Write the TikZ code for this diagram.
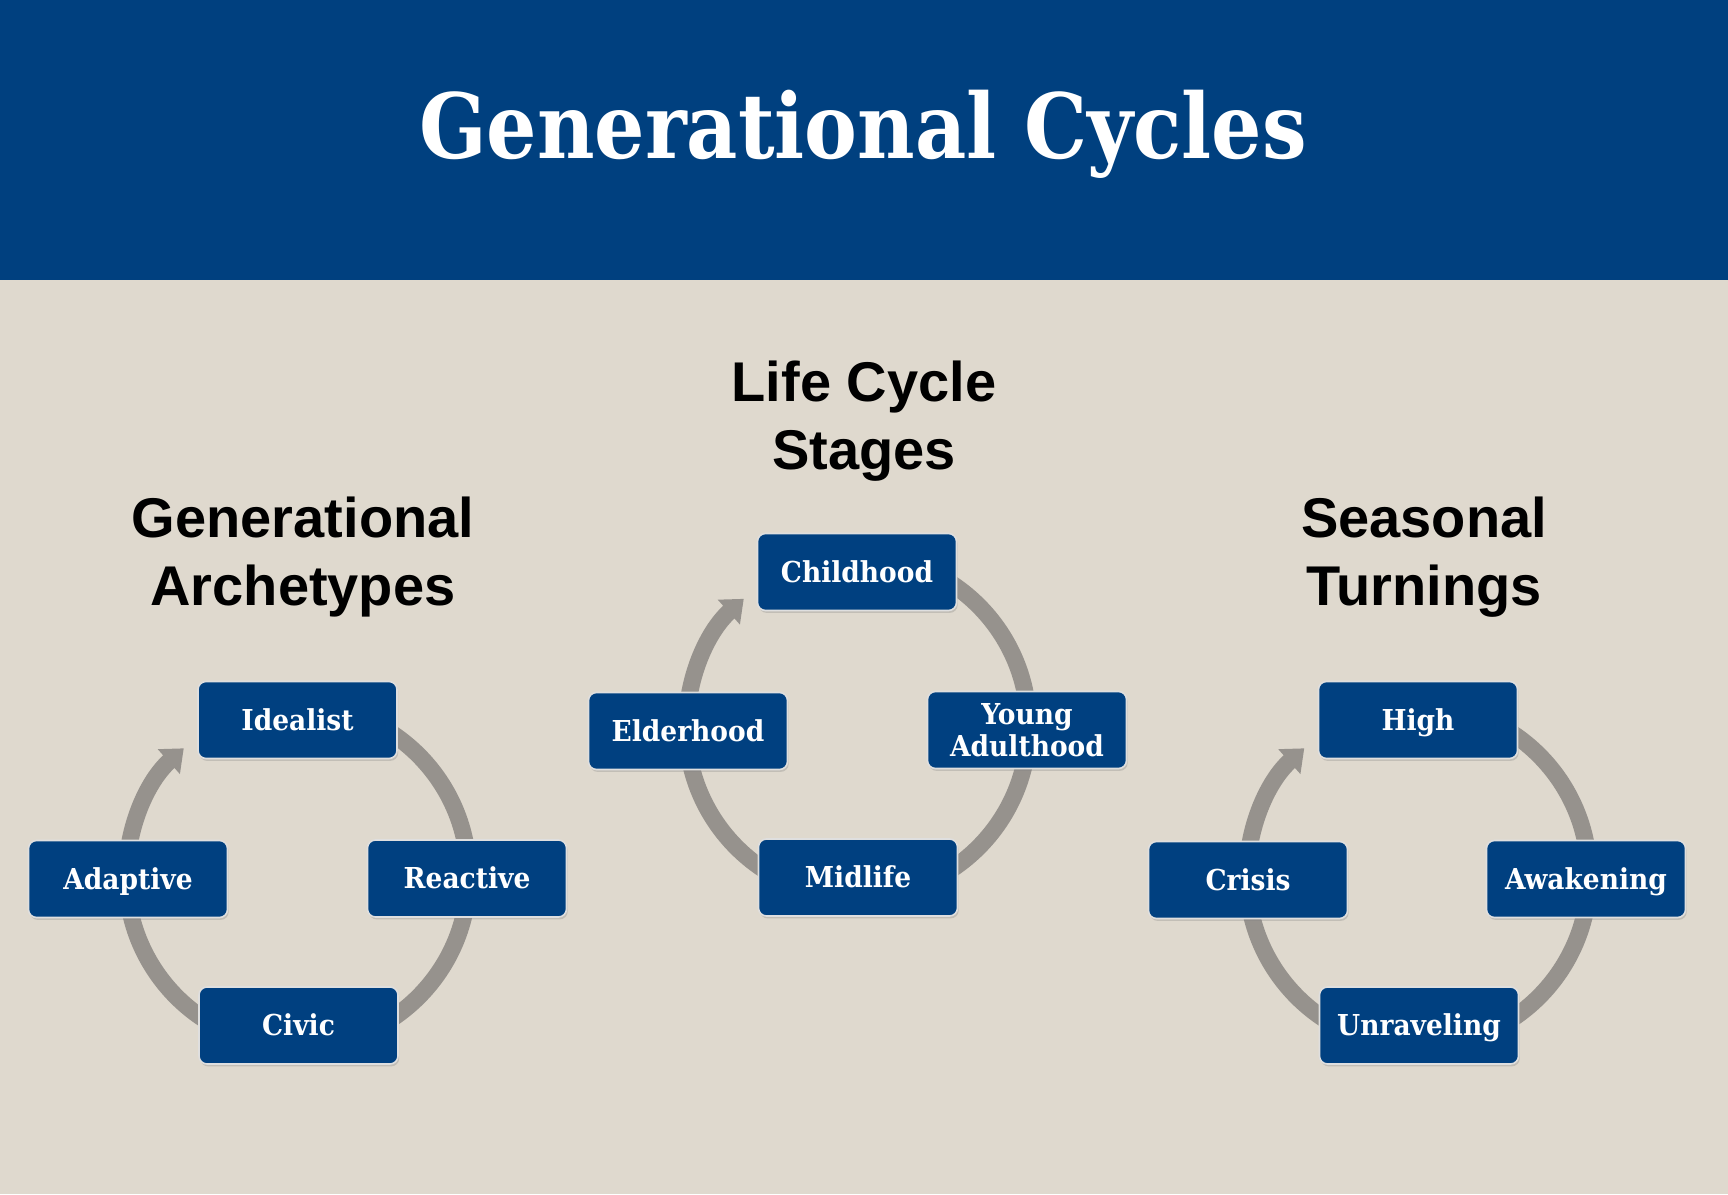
\documentclass[tikz,border=0pt]{standalone}
\usepackage{fontspec}
\setmainfont{DejaVu Serif}
\newfontfamily\titlefont[FakeStretch=0.88]{DejaVu Serif}
\newfontfamily\boxfont[FakeStretch=0.92]{DejaVu Serif}
\newfontfamily\headfont{Liberation Sans}
\usetikzlibrary{arrows.meta,shadows}

\definecolor{bandblue}{RGB}{0,64,127}
\definecolor{boxblue}{RGB}{0,64,128}
\definecolor{paper}{RGB}{223,217,206}
\definecolor{ringgray}{RGB}{150,146,141}

\tikzset{
  stage/.style={rectangle, rounded corners=4pt, fill=boxblue, draw=white!75!gray, line width=0.8pt,
    minimum width=99.5pt, minimum height=38.5pt, inner sep=0pt, text=white, align=center,
    font=\boxfont\bfseries\fontsize{14.4}{16}\selectfont, text height=10.35pt, text depth=0pt,
    drop shadow={shadow xshift=0.6pt, shadow yshift=-1.2pt, opacity=0.3}},
  ring/.style={ringgray, line width=8.5pt, -{Triangle[width=16pt,length=10pt]}},
  heading/.style={align=center, anchor=base, font=\headfont\bfseries\fontsize{28}{34}\selectfont}
}

\begin{document}
\begin{tikzpicture}[x=0.5pt,y=0.5pt]
\useasboundingbox (0,0) rectangle (1728,1194);
\fill[paper] (0,0) rectangle (1728,1194);
\fill[bandblue] (0,914) rectangle (1728,1194);
\node[anchor=base, text=white, font=\titlefont\bfseries\fontsize{45}{50}\selectfont] (title) at (863,1035) {Generational Cycles};

% headings (base = last line)
\node[heading] (archhead) at (303,588) {Generational\\Archetypes};
\node[heading] (lifehead) at (864,724) {Life Cycle\\Stages};
\node[heading] (seasonhead) at (1424,588) {Seasonal\\Turnings};

% rings (drawn first, the boxes cover them)
\coordinate (lc) at (297.5,318);
\coordinate (mc) at (857.5,467.5);
\coordinate (rc) at (1418,318);
\draw[ring] (lc) ++(90:171) arc[start angle=90, end angle=-228.3, radius=171];
\draw[ring] (mc) ++(90:171) arc[start angle=90, end angle=-228.3, radius=171];
\draw[ring] (rc) ++(90:171) arc[start angle=90, end angle=-228.3, radius=171];

% archetypes
\node[stage] (idealist) at (297.5,474) {Idealist};
\node[stage] (adaptive) at (128,315) {Adaptive};
\node[stage] (reactive) at (467,315.5) {Reactive};
\node[stage] (civic) at (298.5,168.5) {Civic};

% life cycle stages
\node[stage] (childhood) at (857,622) {Childhood};
\node[stage] (elderhood) at (688,463) {Elderhood};
\node[stage, text height=26.35pt] (young) at (1027,464) {Young\\Adulthood};
\node[stage] (midlife) at (858,316.5) {Midlife};

% turnings
\node[stage] (high) at (1418,474) {High};
\node[stage] (crisis) at (1248,314) {Crisis};
\node[stage] (awakening) at (1586,315) {Awakening};
\node[stage] (unraveling) at (1419,168.5) {Unraveling};
\end{tikzpicture}
\end{document}
